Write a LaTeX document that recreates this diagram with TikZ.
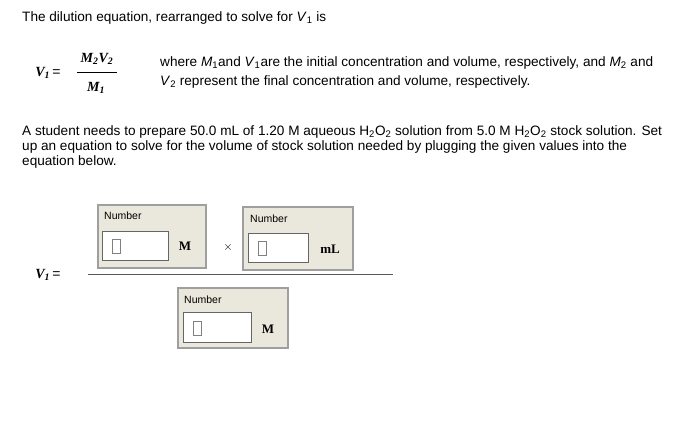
\documentclass[tikz,border=0pt]{standalone}
\usepackage{fontspec}
\setmainfont{Liberation Sans}
\newfontfamily\serifb{Liberation Serif}
\definecolor{boxfill}{RGB}{234,232,220}
\newcommand{\vi}[2]{\textit{#1}\textsubscript{#2}}
\newcommand{\bv}[2]{{\serifb\bfseries\itshape #1\textsubscript{#2}}}
\begin{document}
\begin{tikzpicture}[x=1pt,y=-1pt,
  txt/.style={anchor=west,inner sep=0,font=\fontsize{13.6}{15}\selectfont},
  outer/.style={draw=gray!75,line width=2.2pt,fill=boxfill,anchor=north west,inner sep=0},
  inbox/.style={draw=gray!80!black,line width=0.7pt,fill=white,anchor=north west,inner sep=0},
  caret/.style={draw=gray,fill=white,line width=0.6pt,minimum width=8pt,minimum height=14pt,inner sep=0},
  lbl/.style={anchor=west,inner sep=0,font=\fontsize{10.5}{12}\selectfont},
  unit/.style={inner sep=0,font=\serifb\bfseries\fontsize{13}{14}\selectfont},
  mth/.style={inner sep=0,font=\fontsize{14}{15}\selectfont}]
\useasboundingbox (0,0) rectangle (700,435);
\node[txt] (t1) at (22,18) {The dilution equation, rearranged to solve for \vi{V}{1} is};
\node[mth] (v1a) at (48,73) {\bv{V}{1}\,=};
\node[mth] (num) at (97,59) {\bv{M}{2}\bv{V}{2}};
\node[mth] (den) at (96,88) {\bv{M}{1}};
\draw[line width=0.6pt] (77,72) -- (117,72);
\node[txt] (w1) at (160,63) {where \vi{M}{1}and \vi{V}{1}are the initial concentration and volume, respectively, and \vi{M}{2} and};
\node[txt] (w2) at (160,82) {\vi{V}{2} represent the final concentration and volume, respectively.};
\node[txt] (p1) at (22,132) {A student needs to prepare 50.0 mL of 1.20 M aqueous H\textsubscript{2}O\textsubscript{2} solution from 5.0 M H\textsubscript{2}O\textsubscript{2} stock solution. Set};
\node[txt] (p2) at (22,147) {up an equation to solve for the volume of stock solution needed by plugging the given values into the};
\node[txt] (p3) at (22,162) {equation below.};
% box 1
\node[outer,minimum width=108pt,minimum height=63pt] (b1) at (97,204) {};
\node[lbl] (l1) at (104,216) {Number};
\node[inbox,minimum width=66pt,minimum height=29pt] (i1) at (102,231) {};
\node[caret] (c1) at (116,246) {};
\node[unit] (u1) at (185,246) {M};
\node[inner sep=0,font=\fontsize{13}{14}\selectfont] (x) at (228,248) {$\times$};
% box 2
\node[outer,minimum width=110pt,minimum height=63pt] (b2) at (242,206) {};
\node[lbl] (l2) at (250,219) {Number};
\node[inbox,minimum width=60pt,minimum height=29pt] (i2) at (248,233) {};
\node[caret] (c2) at (262,248) {};
\node[unit] (u2) at (330,249) {mL};
\draw[line width=0.7pt,gray!70!black] (88,274) -- (393,274);
\node[mth] (v1b) at (48,275) {\bv{V}{1}\,=};
% box 3
\node[outer,minimum width=110pt,minimum height=60pt] (b3) at (177,287) {};
\node[lbl] (l3) at (184,300) {Number};
\node[inbox,minimum width=68pt,minimum height=30pt] (i3) at (183,312) {};
\node[caret] (c3) at (197,328) {};
\node[unit] (u3) at (268,329) {M};
\end{tikzpicture}
\end{document}
